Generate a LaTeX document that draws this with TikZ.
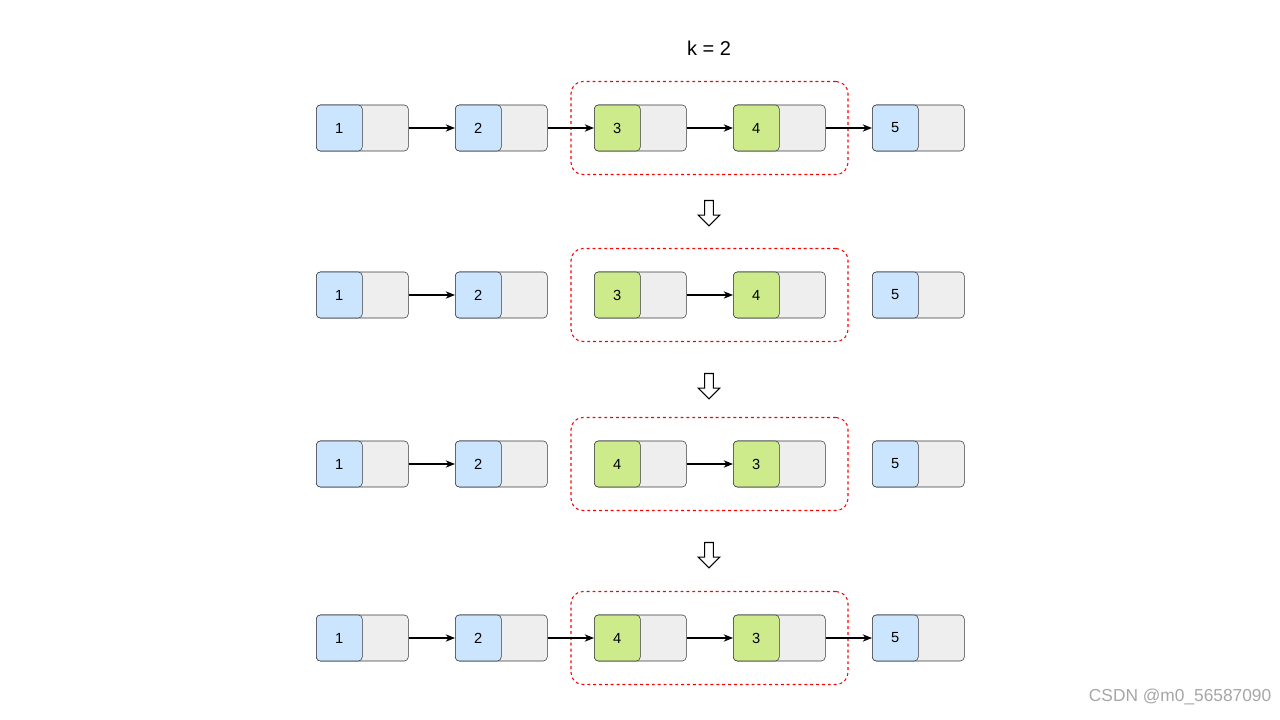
\documentclass[tikz,border=0pt]{standalone}
\usepackage{fontspec}
\setmainfont{Liberation Sans}
\usetikzlibrary{arrows.meta,shapes.arrows}
\definecolor{blu}{HTML}{CCE5FF}
\definecolor{grn}{HTML}{CDEB8B}
\definecolor{gry}{HTML}{EEEEEE}
\definecolor{edge}{HTML}{36393D}
\begin{document}
\begin{tikzpicture}[x=0.75pt,y=-0.75pt,
  whole/.style={draw=edge,fill=gry,rounded corners=3pt,minimum width=69pt,minimum height=34.5pt,inner sep=0pt,anchor=west},
  head/.style={draw=edge,rounded corners=3pt,minimum width=34.5pt,minimum height=34.5pt,inner sep=0pt,anchor=west,font=\fontsize{11pt}{13pt}\selectfont},
  link/.style={-{Stealth[length=7pt,width=5.5pt]},line width=0.8pt},
  grp/.style={draw=red,dash pattern=on 2.2pt off 2.2pt,rounded corners=9pt,line width=0.8pt},
  down/.style={single arrow,draw=black,fill=white,rotate=-90,minimum height=19pt,minimum width=16pt,single arrow head extend=3.5pt,inner sep=2pt,line width=0.8pt}]
\useasboundingbox (0,0) rectangle (1280,720);
\node[font=\fontsize{15pt}{18pt}\selectfont] (k) at (709,48) {k = 2};
% rows
\foreach \r/\y/\a/\b/\c/\d/\e in {1/128/1/2/3/4/5,2/295/1/2/3/4/5,3/464/1/2/4/3/5,4/638/1/2/4/3/5}{
  \foreach \i/\x/\v/\col in {1/316/\a/blu,2/455/\b/blu,3/594/\c/grn,4/733/\d/grn,5/872/\e/blu}{
    \node[whole] (w\r\i) at (\x,\y) {};
    \node[head,fill=\col] (h\r\i) at (\x,\y) {\v};
  }
}
\foreach \y/\n in {128/g1,295/g2,464/g3,638/g4}
  \node[grp,minimum width=207.75pt,minimum height=69.75pt,inner sep=0pt] (\n) at (709.5,\y) {};
\draw[link] (w11.east) -- (h12.west);
\draw[link] (w12.east) -- (h13.west);
\draw[link] (w13.east) -- (h14.west);
\draw[link] (w14.east) -- (h15.west);
\draw[link] (w21.east) -- (h22.west);
\draw[link] (w23.east) -- (h24.west);
\draw[link] (w31.east) -- (h32.west);
\draw[link] (w33.east) -- (h34.west);
\draw[link] (w41.east) -- (h42.west);
\draw[link] (w42.east) -- (h43.west);
\draw[link] (w43.east) -- (h44.west);
\draw[link] (w44.east) -- (h45.west);
\node[down] (d1) at (709,211) {};
\node[down] (d2) at (709,384) {};
\node[down] (d3) at (709,553) {};
\node[text=gray!70,font=\fontsize{13pt}{15pt}\selectfont,anchor=east] (c) at (1276,697) {CSDN @m0\_56587090};
\end{tikzpicture}
\end{document}
